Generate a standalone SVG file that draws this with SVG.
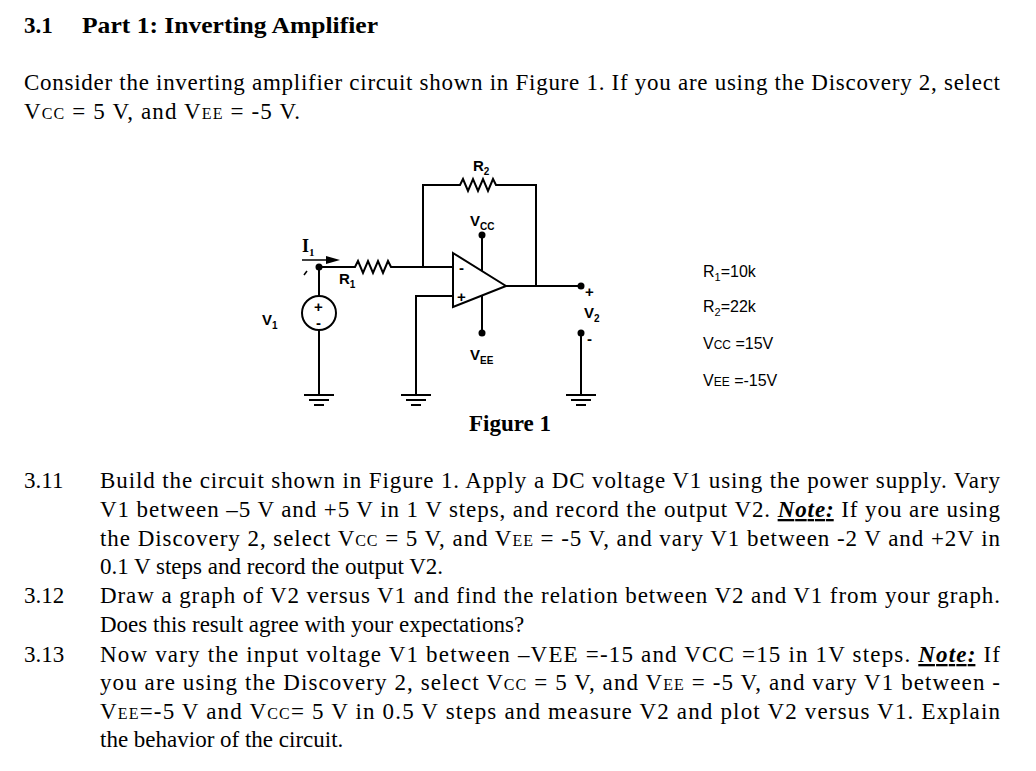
<svg xmlns="http://www.w3.org/2000/svg" width="1036" height="771" viewBox="0 0 1036 771">
<style>
.t{font-family:"Liberation Serif",serif;font-size:23px;fill:#000}
.s{font-size:16px}
.a{font-family:"Liberation Sans",sans-serif;font-weight:bold;font-size:15px;fill:#000}
.r{font-family:"Liberation Sans",sans-serif;font-size:16px;fill:#000}
.w{fill:none;stroke:#000;stroke-width:2}
</style>
<rect width="1036" height="771" fill="#fff"/>
<g id="text">
<text class="t" x="24" y="33" font-weight="bold" font-size="24">3.1</text>
<text class="t" x="82" y="33" font-weight="bold" font-size="24" textLength="296" lengthAdjust="spacingAndGlyphs">Part 1: Inverting Amplifier</text>
<text class="t" x="24" y="90" textLength="976" lengthAdjust="spacing">Consider the inverting amplifier circuit shown in Figure 1.  If you are using the Discovery 2, select</text>
<text class="t" x="24" y="119" textLength="276" lengthAdjust="spacing">V<tspan class="s">CC</tspan> = 5 V, and V<tspan class="s">EE</tspan> = -5 V.</text>
<text class="t" x="469" y="431" font-weight="bold">Figure 1</text>
<text class="t" x="24" y="488">3.11</text>
<text class="t" x="100" y="488" textLength="900" lengthAdjust="spacing">Build the circuit shown in Figure 1.  Apply a DC voltage V1 using the power supply.  Vary</text>
<text class="t" x="100" y="517" textLength="900" lengthAdjust="spacing">V1 between –5 V and +5 V in 1 V steps, and record the output V2.  <tspan font-weight="bold" font-style="italic" text-decoration="underline">Note:</tspan> If you are using</text>
<text class="t" x="100" y="546" textLength="900" lengthAdjust="spacing">the Discovery 2, select V<tspan class="s">CC</tspan> = 5 V, and V<tspan class="s">EE</tspan> = -5 V, and vary V1 between -2 V and +2V in</text>
<text class="t" x="100" y="574">0.1 V steps and record the output V2.</text>
<text class="t" x="24" y="603">3.12</text>
<text class="t" x="100" y="603" textLength="900" lengthAdjust="spacing">Draw a graph of V2 versus V1 and find the relation between V2 and V1 from your graph.</text>
<text class="t" x="100" y="632">Does this result agree with your expectations?</text>
<text class="t" x="24" y="662">3.13</text>
<text class="t" x="100" y="662" textLength="900" lengthAdjust="spacing">Now vary the input voltage V1 between –VEE =-15 and VCC =15 in 1V steps.  <tspan font-weight="bold" font-style="italic" text-decoration="underline">Note:</tspan>  If</text>
<text class="t" x="100" y="690" textLength="900" lengthAdjust="spacing">you are using the Discovery 2, select V<tspan class="s">CC</tspan> = 5 V, and V<tspan class="s">EE</tspan> = -5 V, and vary V1 between -</text>
<text class="t" x="100" y="719" textLength="900" lengthAdjust="spacing">V<tspan class="s">EE</tspan>=-5 V and V<tspan class="s">CC</tspan>= 5 V in 0.5 V steps and measure V2 and plot V2 versus V1.  Explain</text>
<text class="t" x="100" y="747">the behavior of the circuit.</text>
</g>
<g id="connectors">
<path class="w" d="M319 267 H355 l3 -6 l5 12 l5 -12 l5 12 l5 -12 l5 12 l5 -12 l3 6 H453"/>
<path class="w" d="M423 267 V185 H460 l3 -6 l5 12 l5 -12 l5 12 l5 -12 l5 12 l5 -12 l3 6 H536 V286"/>
<path class="w" d="M506 286 H581"/>
<path class="w" d="M453 296 H416 V395"/>
<path class="w" d="M482 235 V271 M482 333 V296"/>
<path class="w" d="M319 267 V296 M319 330 V395"/>
<path class="w" d="M581 333 V395"/>
<path class="w" d="M304 395 H334 M309 400 H329 M314 405 H324 M401 395 H431 M406 400 H426 M411 405 H421 M566 395 H596 M571 400 H591 M576 405 H586"/>
<path d="M302 260 H326" stroke="#000" stroke-width="1.5"/>
<path d="M326 256 L340 260 L326 264 Z"/>
<path d="M304 275 l3 -4" stroke="#000" stroke-width="1.5"/>
</g>
<g id="opamp">
<path class="w" d="M453 253 L506 286 L453 307 Z"/>
<text class="a" x="459" y="273">-</text>
<text class="a" x="457" y="302">+</text>
</g>
<g id="source">
<circle class="w" cx="319" cy="313" r="17"/>
<text class="a" x="314" y="312">+</text>
<text class="a" x="316" y="328">-</text>
</g>
<g id="dots">
<circle cx="319" cy="267" r="3.5"/><circle cx="482" cy="235" r="3.5"/><circle cx="482" cy="333" r="3.5"/><circle cx="581" cy="286" r="3.5"/><circle cx="581" cy="333" r="3.5"/>
</g>
<g id="labels">
<text class="a" x="473" y="171">R<tspan font-size="10" dy="4">2</tspan></text>
<text class="a" x="470" y="226">V<tspan font-size="10" dy="4">CC</tspan></text>
<text class="a" x="470" y="360">V<tspan font-size="10" dy="4">EE</tspan></text>
<text class="a" x="339" y="284">R<tspan font-size="10" dy="4">1</tspan></text>
<text x="302" y="252" font-family="Liberation Serif,serif" font-weight="bold" font-size="18">I<tspan font-size="11" dy="4">1</tspan></text>
<text class="a" x="262" y="325">V<tspan font-size="10" dy="4">1</tspan></text>
<text class="a" x="585" y="297">+</text>
<text class="a" x="584" y="318">V<tspan font-size="10" dy="4">2</tspan></text>
<text class="a" x="587" y="344">-</text>
<text class="r" x="703" y="277">R<tspan font-size="11" dy="4">1</tspan><tspan dy="-4">=10k</tspan></text>
<text class="r" x="703" y="312">R<tspan font-size="11" dy="4">2</tspan><tspan dy="-4">=22k</tspan></text>
<text class="r" x="703" y="349">V<tspan font-size="12">CC</tspan> =15V</text>
<text class="r" x="703" y="386">V<tspan font-size="12">EE</tspan> =-15V</text>
</g>
</svg>
